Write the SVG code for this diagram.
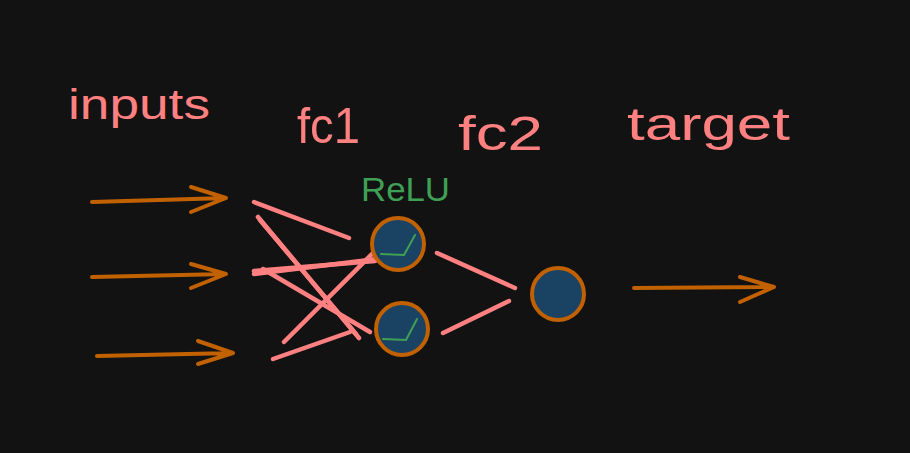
<svg xmlns="http://www.w3.org/2000/svg" width="910" height="453" viewBox="0 0 910 453">
<style>
.lbl{font-family:"Liberation Sans",Arial,sans-serif;fill:#ff8080}
.arr{stroke:#c26100;stroke-width:4;fill:none;stroke-linecap:round;stroke-linejoin:round}
.edge{stroke:#ff8080;stroke-width:4.5;fill:none;stroke-linecap:round}
.node{fill:#1a4363;stroke:#c26100;stroke-width:4}
.relu{stroke:#3fa055;stroke-width:2;fill:none;stroke-linecap:round;stroke-linejoin:round}
</style>
<rect width="910" height="453" fill="#121212"/>
<g id="labels">
<text class="lbl" x="68" y="119" font-size="42" textLength="142" lengthAdjust="spacingAndGlyphs">inputs</text>
<text class="lbl" x="297" y="143" font-size="50" textLength="63" lengthAdjust="spacingAndGlyphs">fc1</text>
<text class="lbl" x="458" y="150" font-size="48" textLength="85" lengthAdjust="spacingAndGlyphs">fc2</text>
<text class="lbl" x="627" y="140" font-size="46" textLength="163" lengthAdjust="spacingAndGlyphs">target</text>
<text x="361" y="201" font-size="34" textLength="89" lengthAdjust="spacingAndGlyphs" font-family="Liberation Sans,Arial,sans-serif" fill="#3fa055">ReLU</text>
</g>
<g id="connectors">
<path class="arr" d="M92 202 L226 198 M191 187 L226 198 L191 212"/>
<path class="arr" d="M92 277 L226 274 M191 264 L226 274 L191 288"/>
<path class="arr" d="M97 356 L233 353 M198 341 L233 353 L198 364"/>
<path class="arr" d="M634 288 L774 287 M740 277 L774 287 L740 302"/>
<path class="edge" d="M254 202 L349 238"/>
<path class="edge" d="M258 217 L359 338"/>
<path class="edge" d="M260 220 L356 334"/>
<path class="edge" d="M254 274 L377 259"/>
<path class="edge" d="M254 271 L375 261"/>
<path class="edge" d="M263 269 L370 332"/>
<path class="edge" d="M284 342 L375 251"/>
<path class="edge" d="M273 359 L350 332"/>
<path class="edge" d="M437 253 L515 288"/>
<path class="edge" d="M443 333 L509 301"/>
</g>
<g id="node-fc1-a">
<circle class="node" cx="398" cy="244" r="26"/>
<path class="relu" d="M381 254 L404 255 L415 235"/>
</g>
<g id="node-fc1-b">
<circle class="node" cx="402" cy="329" r="26"/>
<path class="relu" d="M383 339 L406 340 L417 319"/>
</g>
<g id="node-fc2">
<circle class="node" cx="558" cy="294" r="26"/>
</g>
</svg>
